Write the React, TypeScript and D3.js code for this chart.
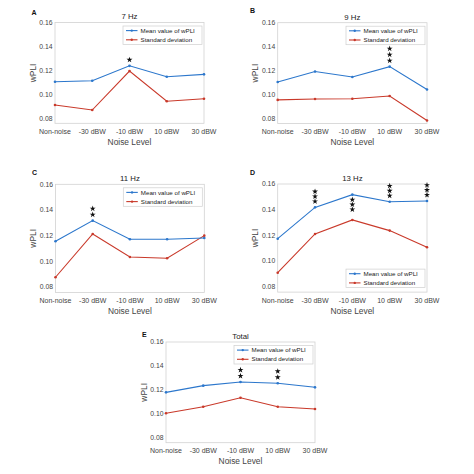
import React from "react";
import * as d3 from "d3";

const categories = ["Non-noise", "-30 dBW", "-10 dBW", "10 dBW", "30 dBW"];
const yTicks = [0.08, 0.1, 0.12, 0.14, 0.16];
const legendLabels = ["Mean value of wPLI", "Standard deviation"];

const mean7 = [0.1105, 0.1113, 0.1238, 0.1147, 0.1167];
const sd7 = [0.0911, 0.0869, 0.1194, 0.0942, 0.0963];
const stars7 = [0, 0, 1, 0, 0];

const mean9 = [0.1105, 0.1192, 0.1147, 0.1233, 0.1042];
const sd9 = [0.0955, 0.0963, 0.0965, 0.0988, 0.0783];
const stars9 = [0, 0, 0, 3, 0];

const mean11 = [0.1156, 0.1317, 0.1172, 0.1172, 0.1182];
const sd11 = [0.0876, 0.1213, 0.1034, 0.1024, 0.12];
const stars11 = [0, 2, 0, 0, 0];

const mean13 = [0.1174, 0.1418, 0.1517, 0.1462, 0.1468];
const sd13 = [0.0909, 0.1211, 0.132, 0.1237, 0.1107];
const stars13 = [0, 3, -3, 3, 3]; // negative = drawn below the point

const meanTotal = [0.1179, 0.1235, 0.1266, 0.1255, 0.1221];
const sdTotal = [0.1004, 0.1059, 0.1134, 0.1059, 0.104];
const starsTotal = [0, 0, 2, 2, 0];

const yDomain: [number, number] = [0.0758, 0.16];

const BLUE = "#2c77cc";
const RED = "#c9392a";
const FONT = "'Liberation Sans', Arial, Helvetica, sans-serif";

type Panel = {
  letter: string;
  title: string;
  mean: number[];
  sd: number[];
  stars: number[];
  left: number;
  right: number;
  top: number;
  bottom: number;
  legend: "ne" | "se";
  starGap: number;
  letterX: number;
  letterY: number;
};

const panels: Panel[] = [
  { letter: "A", title: "7 Hz", mean: mean7, sd: sd7, stars: stars7, left: 55, right: 204, top: 22.5, bottom: 123.3, legend: "ne", starGap: 6, letterX: 31.5, letterY: 14.5 },
  { letter: "B", title: "9 Hz", mean: mean9, sd: sd9, stars: stars9, left: 277.7, right: 427, top: 22.7, bottom: 123.5, legend: "ne", starGap: 6, letterX: 250, letterY: 12.8 },
  { letter: "C", title: "11 Hz", mean: mean11, sd: sd11, stars: stars11, left: 55.5, right: 204.3, top: 184.3, bottom: 292.4, legend: "ne", starGap: 6, letterX: 32, letterY: 175 },
  { letter: "D", title: "13 Hz", mean: mean13, sd: sd13, stars: stars13, left: 277.7, right: 427, top: 184, bottom: 292.1, legend: "se", starGap: 4.9, letterX: 250, letterY: 174.5 },
  { letter: "E", title: "Total", mean: meanTotal, sd: sdTotal, stars: starsTotal, left: 166, right: 315, top: 342, bottom: 442.7, legend: "ne", starGap: 6, letterX: 142, letterY: 336.5 },
];

const starPath = d3.symbol().type(d3.symbolStar).size(11)() as string;

function PanelView({ p }: { p: Panel }) {
  const x = d3.scalePoint<string>().domain(categories).range([p.left, p.right]);
  const y = d3.scaleLinear().domain(yDomain).range([p.bottom, p.top]);
  const line = d3
    .line<number>()
    .x((_, i) => x(categories[i]) as number)
    .y((d) => y(d));
  const cx = (p.left + p.right) / 2;
  const cy = (p.top + p.bottom) / 2;

  const lw = 79;
  const lh = 18.5;
  const lx = p.right - 2 - lw;
  const ly = p.legend === "ne" ? p.top + 3.5 : p.bottom - 4.5 - lh;

  const series = [
    { vals: p.sd, color: RED },
    { vals: p.mean, color: BLUE },
  ];

  return (
    <g>
      <rect x={p.left} y={p.top} width={p.right - p.left} height={p.bottom - p.top} fill="#fff" stroke="#d2d2d2" strokeWidth={0.8} />
      {yTicks.map((t) => (
        <text key={t} x={p.left - 2.5} y={y(t)} dy="0.35em" textAnchor="end" fontSize={6.8} fill="#444" fontFamily={FONT}>
          {t.toFixed(2)}
        </text>
      ))}
      {categories.map((c) => (
        <text key={c} x={x(c) as number} y={p.bottom + 10.7} textAnchor="middle" fontSize={7} fill="#444" fontFamily={FONT}>
          {c}
        </text>
      ))}
      <text x={cx} y={p.bottom + 21.6} textAnchor="middle" fontSize={8.4} fill="#444" fontFamily={FONT}>
        Noise Level
      </text>
      <text transform={`translate(${p.left - 19.5},${cy}) rotate(-90)`} textAnchor="middle" fontSize={8.4} fill="#444" fontFamily={FONT}>
        wPLI
      </text>
      <text x={cx} y={p.top - 3.2} textAnchor="middle" fontSize={7.8} fill="#222" fontFamily={FONT}>
        {p.title}
      </text>
      <text x={p.letterX} y={p.letterY} fontSize={7} fontWeight="bold" fill="#111" fontFamily={FONT}>
        {p.letter}
      </text>
      {series.map((s, si) => (
        <g key={si}>
          <path d={line(s.vals) as string} fill="none" stroke={s.color} strokeWidth={1.1} />
          {s.vals.map((v, i) => (
            <circle key={i} cx={x(categories[i]) as number} cy={y(v)} r={1.3} fill={s.color} />
          ))}
        </g>
      ))}
      {p.stars.map((n, i) => {
        const count = Math.abs(n);
        const dir = n < 0 ? 1 : -1;
        const px = x(categories[i]) as number;
        const py = y(p.mean[i]);
        return Array.from({ length: count }, (_, k) => (
          <path key={`${i}-${k}`} d={starPath} transform={`translate(${px},${py + dir * (6 + k * p.starGap) - (n < 0 ? 1 : 0)})`} fill="#111" />
        ));
      })}
      <rect x={lx} y={ly} width={lw} height={lh} fill="#fff" stroke="#cfcfcf" strokeWidth={0.7} />
      {legendLabels.map((lab, i) => {
        const yy = ly + 4.6 + i * 9.2;
        const col = i === 0 ? BLUE : RED;
        return (
          <g key={lab}>
            <line x1={lx + 3} x2={lx + 14.5} y1={yy} y2={yy} stroke={col} strokeWidth={1.1} />
            <circle cx={lx + 8.75} cy={yy} r={1.2} fill={col} />
            <text x={lx + 17.5} y={yy} dy="0.35em" fontSize={6.2} fill="#222" fontFamily={FONT}>
              {lab}
            </text>
          </g>
        );
      })}
    </g>
  );
}

export default function App() {
  return (
    <svg width={474} height={474} viewBox="0 0 474 474" style={{ position: "absolute", left: 0, top: 0, background: "#fff" }}>
      <rect width={474} height={474} fill="#fff" />
      {panels.map((p) => (
        <PanelView key={p.letter} p={p} />
      ))}
    </svg>
  );
}
